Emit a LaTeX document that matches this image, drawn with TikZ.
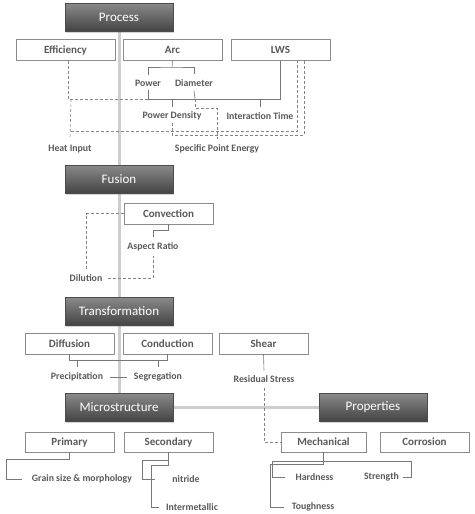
\documentclass[tikz,border=0pt]{standalone}
\usepackage{fontspec}
\setmainfont{Carlito}
\usetikzlibrary{shadows,backgrounds}
\definecolor{txt}{HTML}{595959}
\definecolor{boxline}{HTML}{8C8C8C}
\definecolor{conline}{HTML}{777777}
\definecolor{spinec}{HTML}{CDCDCD}
\definecolor{darktop}{HTML}{8A8A8A}
\definecolor{darkbot}{HTML}{444444}
\tikzset{
  darkbox/.style={draw=black!70, line width=0.8pt, top color=darktop, bottom color=darkbot,
    minimum width=108pt, minimum height=28pt, inner sep=0pt, text=white,
    font=\fontsize{13}{15}\selectfont, drop shadow={shadow xshift=1.2pt, shadow yshift=-1.5pt, opacity=0.35}},
  whitebox/.style={draw=boxline, line width=0.7pt, fill=white, minimum height=21pt, inner sep=0pt,
    text=txt, font=\fontsize{11}{13}\selectfont\bfseries},
  lbl/.style={inner sep=0pt, text=txt, font=\fontsize{9.8}{11}\selectfont\bfseries},
  conn/.style={draw=conline, line width=0.6pt},
  dashconn/.style={draw=conline!90, line width=0.6pt, dash pattern=on 3pt off 2pt},
  spine/.style={draw=spinec, line width=3pt}
}
\begin{document}
\begin{tikzpicture}[x=1pt,y=-1pt]
\path[use as bounding box] (0,0) rectangle (474,514);

% dark boxes
\node[darkbox] (Process) at (119,17) {Process};
\node[darkbox] (Fusion) at (119,179) {Fusion};
\node[darkbox] (Transformation) at (119,311) {Transformation};
\node[darkbox] (Microstructure) at (119,407) {Microstructure};
\node[darkbox] (Properties) at (373,407) {Properties};

% process level
\node[whitebox, minimum width=99pt] (Efficiency) at (65.5,50) {Efficiency};
\node[whitebox, minimum width=99pt] (Arc) at (172.5,50) {Arc};
\node[whitebox, minimum width=99pt] (LWS) at (280.5,50) {LWS};
\node[lbl] (Power) at (148,83) {Power};
\node[lbl] (Diameter) at (194,83) {Diameter};
\node[lbl] (PowerDensity) at (172,116) {Power Density};
\node[lbl] (InteractionTime) at (260,116) {Interaction Time};
\node[lbl] (HeatInput) at (70,149) {Heat Input};
\node[lbl] (SPE) at (217,149) {Specific Point Energy};

% fusion level
\node[whitebox, minimum width=89pt] (Convection) at (168.5,213.5) {Convection};
\node[lbl] (AspectRatio) at (153,247) {Aspect Ratio};
\node[lbl] (Dilution) at (86,278) {Dilution};

% transformation level
\node[whitebox, minimum width=89pt] (Diffusion) at (69.5,343.5) {Diffusion};
\node[whitebox, minimum width=89pt] (Conduction) at (167.5,343.5) {Conduction};
\node[whitebox, minimum width=89pt] (Shear) at (263.5,343.5) {Shear};
\node[lbl] (Precipitation) at (77,377) {Precipitation};
\node[lbl] (Segregation) at (158,377) {Segregation};
\node[lbl] (ResidualStress) at (264,379) {Residual Stress};

% bottom level
\node[whitebox, minimum width=89pt, minimum height=20pt] (Primary) at (69.5,442) {Primary};
\node[whitebox, minimum width=89pt, minimum height=20pt] (Secondary) at (168.5,442) {Secondary};
\node[whitebox, minimum width=85pt, minimum height=20pt] (Mechanical) at (323.5,442) {Mechanical};
\node[whitebox, minimum width=89pt, minimum height=20pt] (Corrosion) at (424.5,442) {Corrosion};
\node[lbl] (Grain) at (82,479) {Grain size \& morphology};
\node[lbl] (Nitride) at (186,479) {nitride};
\node[lbl] (Intermetallic) at (192,507) {Intermetallic};
\node[lbl] (Hardness) at (314.5,477) {Hardness};
\node[lbl] (Strength) at (381.5,477) {Strength};
\node[lbl] (Toughness) at (313,507) {Toughness};

% spine lines
\begin{scope}[on background layer]
\draw[spine] (Process.south) -- (Microstructure.north);
\draw[spine] (Microstructure.east) -- (Properties.west);
\end{scope}

% named junctions
\coordinate (arcJ) at (172,67);
\coordinate (pdBarL) at (148,99);
\coordinate (pdJ) at (172,99);
\coordinate (itJ) at (260,99);
\coordinate (diaJ) at (195,99);
\coordinate (hiJ) at (71,99);
\coordinate (hiBar) at (71,131);
\coordinate (speBar) at (172,135);
\coordinate (diaBend) at (217,108);
\coordinate (mechL) at (272,461);
\coordinate (mechR) at (411,461);

% Arc bracket
\draw[conn] (Arc.south) -- (arcJ);
\draw[conn] ([yshift=5pt]Power.north) |- (arcJ) -| ([yshift=5pt]Diameter.north);
% Power/Diameter -> Power Density ; LWS -> Interaction time
\draw[conn] (LWS.south) |- (pdBarL);
\draw[conn] ([yshift=-4pt]Power.south) -- (pdBarL);
\draw[conn] ([yshift=-4pt]Diameter.south) -- (diaJ);
\draw[conn] (pdJ) -- ([yshift=5pt]PowerDensity.north);
\draw[conn] (itJ) -- ([yshift=5pt]InteractionTime.north);

% dashed relations
\draw[dashconn] ([xshift=2.5pt]Efficiency.south) |- (pdBarL);
\draw[dashconn] (hiJ) -- ([yshift=6pt]HeatInput.north);
\draw[dashconn] (hiBar) -| ([xshift=17pt]LWS.south);
\draw[dashconn] ([yshift=-3pt]PowerDensity.south) |- (speBar) -| ([xshift=24pt]LWS.south);
\draw[dashconn] (diaJ) |- (diaBend) -- ([yshift=6pt]SPE.north -| diaBend);

% fusion
\draw[dashconn] (Convection.west) -| ([yshift=4pt]Dilution.north);
\draw[dashconn] ([xshift=6pt]Dilution.east) -| ([yshift=-5pt]AspectRatio.south);
\draw[conn] (Convection.south) -- ++(0,6) -| ([yshift=6pt]AspectRatio.north);

% transformation
\draw[conn] (Diffusion.south) -- ++(0,6) -| (Conduction.south);
\draw[conn] ([yshift=-6pt]Diffusion.south -| Precipitation.north) -- ([yshift=6pt]Precipitation.north);
\draw[conn] ([yshift=-6pt]Conduction.south -| Segregation.north) -- ([yshift=6pt]Segregation.north);
\draw[conn] ([xshift=7pt]Precipitation.east) -- ([xshift=-7pt]Segregation.west);
\draw[conn] (Shear.south) -- ([yshift=5pt]ResidualStress.north);
\draw[dashconn] ([yshift=-5pt]ResidualStress.south) |- (Mechanical.west);

% bottom connectors
\draw[conn] (Primary.south) -- ++(0,7) -| ([xshift=-25pt]Grain.west) -- ([xshift=-10pt]Grain.west);
\draw[conn] (Secondary.south) -- ++(0,13) -| ([xshift=-15pt]Intermetallic.west) -- ([xshift=-7pt]Intermetallic.west);
\draw[conn] ([yshift=-8pt]Secondary.south) -| ([xshift=-30pt]Nitride.west) -- ([xshift=-17pt]Nitride.west);
\draw[conn] (Mechanical.south) -- ++(0,12) -| ([xshift=-21pt]Toughness.west) -- ([xshift=-8pt]Toughness.west);
\draw[conn] ([xshift=-10pt]Hardness.west) -| (mechL) -- (mechR) |- ([xshift=4pt]Strength.east);
\end{tikzpicture}
\end{document}
